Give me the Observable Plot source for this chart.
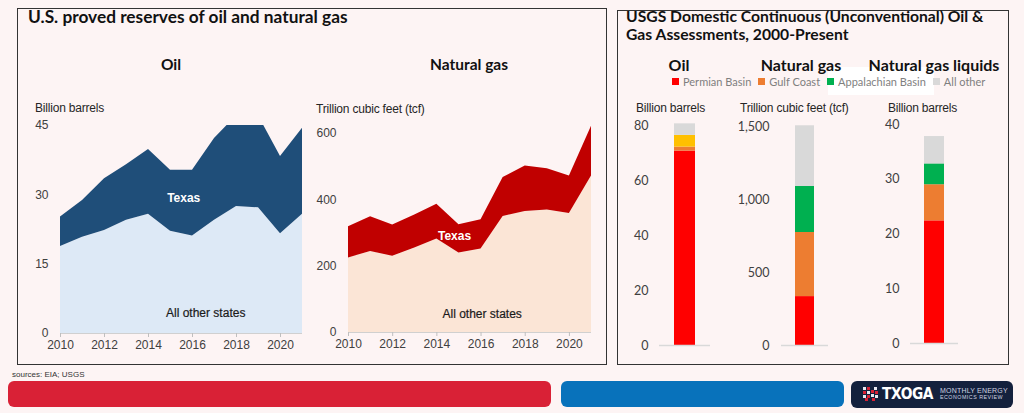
<!DOCTYPE html>
<html>
<head>
<meta charset="utf-8">
<script src="https://cdn.jsdelivr.net/npm/d3@7"></script>
<script src="https://cdn.jsdelivr.net/npm/@observablehq/plot@0.6"></script>
<style>
  html, body { margin: 0; padding: 0; background: #fdf4f4; }
  #page { position: relative; width: 1024px; height: 413px; overflow: hidden; background: #fdf4f4;
          font-family: "Liberation Sans", Arial, sans-serif; }
  .abs { position: absolute; white-space: nowrap; line-height: 1; }
  .panel { position: absolute; border: 1.5px solid #333; box-sizing: border-box; }
  .ttl { font-family: Lato, "Open Sans", sans-serif; font-weight: 700; color: #111; }
  .unit { font-size: 12px; color: #262626; letter-spacing: -0.2px; }
  .chart { position: absolute; }
  .chart svg { overflow: visible; }
  .lg-swatches { font-family: Lato, sans-serif !important; font-size: 11px !important; color: #7f7f7f !important;
                 min-height: 0 !important; margin: 0 !important; }
  .lg-swatch { margin-right: 7px !important; }
  .lg-swatch svg { margin-right: 4px !important; }
</style>
</head>
<body>
<div id="page"></div>
<script>
// U.S. proved reserves by year (oil: billion barrels, natural gas: tcf)
const years    = [2010, 2011, 2012, 2013, 2014, 2015, 2016, 2017, 2018, 2019, 2020, 2021];
const oilTotal = [25.2, 28.8, 33.5, 36.5, 39.8, 35.3, 35.3, 42.2, 47.1, 47.1, 38.3, 44.4];
const oilOther = [18.8, 20.8, 22.3, 24.5, 25.8, 22.1, 21.1, 24.5, 27.5, 27.2, 21.6, 25.8];
const gasTotal = [319, 349, 324, 354, 387, 325, 340, 467, 502, 494, 472, 622];
const gasOther = [225, 244, 230, 255, 282, 240, 252, 350, 365, 369, 359, 472];
const xTicks   = [2010, 2012, 2014, 2016, 2018, 2020];
const oilTicks = [0, 15, 30, 45];
const gasTicks = [0, 200, 400, 600];

// USGS continuous assessments by basin
const basins      = ["Permian Basin", "Gulf Coast", "Other basins", "Appalachian Basin", "All other"];
const basinColors = ["#ff0000", "#ed7d31", "#ffc000", "#00b050", "#d9d9d9"];
const oilAssess   = [70.7, 1.45, 4.25, 0, 4.2];
const gasAssess   = [335, 439, 0, 315, 416];
const nglAssess   = [22.4, 6.6, 0, 3.8, 5.0];
const legendBasins = ["Permian Basin", "Gulf Coast", "Appalachian Basin", "All other"];
const oilBarTicks = [0, 20, 40, 60, 80];
const gasBarTicks = [0, 500, 1000, 1500];
const nglBarTicks = [0, 10, 20, 30, 40];

const page = document.getElementById("page");

function box(x, y, w, h, style, cls) {
  const d = document.createElement("div");
  d.className = cls || "abs";
  Object.assign(d.style, { left: x + "px", top: y + "px", width: w + "px", height: h + "px" }, style || {});
  page.appendChild(d);
  return d;
}
function label(text, x, y, cls, style, center) {
  const d = document.createElement("div");
  d.className = "abs " + (cls || "");
  d.textContent = text;
  Object.assign(d.style, { left: x + "px", top: y + "px",
    transform: center ? "translate(-50%,-50%)" : "translate(0,-50%)" }, style || {});
  page.appendChild(d);
  return d;
}
function mount(node, x, y) {
  const wrap = document.createElement("div");
  wrap.className = "chart";
  wrap.style.left = x + "px";
  wrap.style.top = y + "px";
  wrap.appendChild(node);
  page.appendChild(wrap);
}

// panels
box(17, 8, 590, 357, {}, "panel");
box(617, 10, 392, 355, {}, "panel");

// left panel titles
label("U.S. proved reserves of oil and natural gas", 28, 17, "ttl", { fontSize: "17.3px" });
label("Oil", 171, 65, "ttl", { fontSize: "15.5px" }, true);
label("Natural gas", 469, 65, "ttl", { fontSize: "15.5px" }, true);
label("Billion barrels", 35, 108, "unit");
label("Trillion cubic feet (tcf)", 316, 109, "unit");

const axisStyle = { background: "transparent", fontFamily: "Liberation Sans, Arial, sans-serif",
                    fontSize: "12px", color: "#404040" };

function reservesChart({ total, other, yDomain, yTicks, fillTop, fillBottom, clip, marginTop, marginBottom,
                         marginRight, texas, rest }) {
  const rows = years.map((year, i) => ({ year, total: total[i], other: other[i] }));
  return Plot.plot({
    width: 300, height: 260,
    marginLeft: 43, marginRight, marginTop, marginBottom,
    style: axisStyle,
    x: { domain: [2010, 2021] },
    y: { domain: yDomain },
    marks: [
      Plot.areaY(rows, { x: "year", y1: 0, y2: "other", fill: fillBottom, clip }),
      Plot.areaY(rows, { x: "year", y1: "other", y2: "total", fill: fillTop, clip }),
      Plot.ruleY([0], { stroke: "#d0d0d0" }),
      Plot.axisX({ ticks: xTicks, tickFormat: d => String(d), tickSize: 4, tickPadding: 3,
                   stroke: "#bfbfbf", fill: "#404040", label: null }),
      Plot.axisY({ ticks: yTicks, tickSize: 0, tickPadding: 12, fill: "#404040", label: null }),
      Plot.text([texas], { x: "x", y: "y", text: () => "Texas", fill: "white", fontWeight: "bold", fontSize: 12 }),
      Plot.text([rest], { x: "x", y: "y", text: () => "All other states", fill: "#1a1a1a", fontSize: 12,
                          stroke: "#1a1a1a", strokeWidth: 0.2 })
    ]
  });
}

mount(reservesChart({
  total: oilTotal, other: oilOther, yDomain: [0, 45], yTicks: oilTicks,
  fillTop: "#1f4e79", fillBottom: "#dde9f6", clip: true,
  marginTop: 30, marginBottom: 22, marginRight: 15,
  texas: { x: 2015.6, y: 29.2 }, rest: { x: 2016.6, y: 4.3 }
}), 17, 95);

mount(reservesChart({
  total: gasTotal, other: gasOther, yDomain: [0, 600], yTicks: gasTicks,
  fillTop: "#c00000", fillBottom: "#fbe5d6", clip: false,
  marginTop: 38, marginBottom: 23, marginRight: 14,
  texas: { x: 2014.8, y: 290 }, rest: { x: 2016.05, y: 54 }
}), 305, 95);

// right panel (white legend backing sits beneath the titles)
box(828, 67, 106, 28, { background: "#ffffff" });
label("USGS Domestic Continuous (Unconventional) Oil &", 626, 17, "ttl", { fontSize: "15.7px" });
label("Gas Assessments, 2000-Present", 626, 35, "ttl", { fontSize: "15.7px" });
label("Oil", 679, 65, "ttl", { fontSize: "16px" }, true);
label("Natural gas", 801, 65, "ttl", { fontSize: "16px" }, true);
label("Natural gas liquids", 934, 65, "ttl", { fontSize: "16px" }, true);

const legend = Plot.legend({
  color: { domain: legendBasins, range: legendBasins.map(b => basinColors[basins.indexOf(b)]) },
  legend: "swatches", swatchSize: 7, className: "lg"
});
mount(legend, 672, 75);

label("Billion barrels", 636, 108, "unit");
label("Trillion cubic feet (tcf)", 740, 108, "unit");
label("Billion barrels", 888, 108, "unit");

function assessChart(values, { ticks, yDomain, width, marginLeft, marginRight, marginTop, marginBottom, inset, tickPadding }) {
  const rows = basins.map((basin, i) => ({ group: "total", basin, value: values[i] })).filter(d => d.value > 0);
  return Plot.plot({
    width, height: 245, marginLeft, marginRight, marginTop, marginBottom,
    style: { background: "transparent", fontFamily: "Lato, sans-serif", fontSize: "12.5px", color: "#404040" },
    x: { axis: null, padding: 0 },
    y: { domain: yDomain, ticks, tickSize: 0, tickPadding, label: null },
    color: { domain: basins, range: basinColors },
    marks: [
      Plot.barY(rows, { x: "group", y: "value", fill: "basin", insetLeft: inset, insetRight: inset }),
      Plot.ruleY([0], { stroke: "#d9d9d9", strokeWidth: 1.5 })
    ]
  });
}

mount(assessChart(oilAssess, { ticks: oilBarTicks, yDomain: [0, 80], width: 100,
  marginLeft: 39, marginRight: 10, marginTop: 15, marginBottom: 10, inset: 15, tickPadding: 11 }), 620, 110);
mount(assessChart(gasAssess, { ticks: gasBarTicks, yDomain: [0, 1500], width: 115,
  marginLeft: 56, marginRight: 12, marginTop: 16, marginBottom: 10, inset: 14, tickPadding: 12 }), 725, 110);
mount(assessChart(nglAssess, { ticks: nglBarTicks, yDomain: [0, 40], width: 110,
  marginLeft: 50, marginRight: 12, marginTop: 14, marginBottom: 12, inset: 14, tickPadding: 11 }), 860, 110);

// footer
label("sources:  EIA; USGS", 12, 375, "", { fontSize: "8px", color: "#333" });
box(8, 381, 543, 26, { background: "#d92136", borderRadius: "6px" });
box(561, 381, 283, 26, { background: "#0872bb", borderRadius: "6px" });
box(851, 381, 162, 27, { background: "#14213d", borderRadius: "6px" });

// logo mark: small dotted star
const logo = document.createElementNS("http://www.w3.org/2000/svg", "svg");
logo.setAttribute("width", "18"); logo.setAttribute("height", "16");
const dots = [[1,1,"#e8e8f0"],[5,1,"#d92136"],[12,1,"#e8e8f0"],[9,4,"#d92136"],[1,5,"#d92136"],[5,5,"#e8e8f0"],
              [13,5,"#d92136"],[9,8,"#e8e8f0"],[1,9,"#e8e8f0"],[5,9,"#d92136"],[13,9,"#e8e8f0"],[3,12,"#d92136"],[10,12,"#d92136"]];
dots.forEach(([x, y, c]) => {
  const r = document.createElementNS("http://www.w3.org/2000/svg", "rect");
  r.setAttribute("x", x); r.setAttribute("y", y); r.setAttribute("width", 3); r.setAttribute("height", 3);
  r.setAttribute("fill", c);
  logo.appendChild(r);
});
const logoWrap = box(862, 386, 18, 16, {});
logoWrap.appendChild(logo);
label("TXOGA", 882, 394, "", { fontSize: "15px", fontWeight: "900", color: "#fff", letterSpacing: "-0.5px",
                               fontFamily: "\"DejaVu Sans\", sans-serif", transform: "translate(0,-50%) scaleX(0.92)", transformOrigin: "left center" });
label("MONTHLY ENERGY", 940, 390, "", { fontSize: "7px", color: "#cfd3e0", letterSpacing: "0.2px" });
label("ECONOMICS REVIEW", 940, 398, "", { fontSize: "5.3px", color: "#cfd3e0", letterSpacing: "0.5px" });
</script>
</body>
</html>
